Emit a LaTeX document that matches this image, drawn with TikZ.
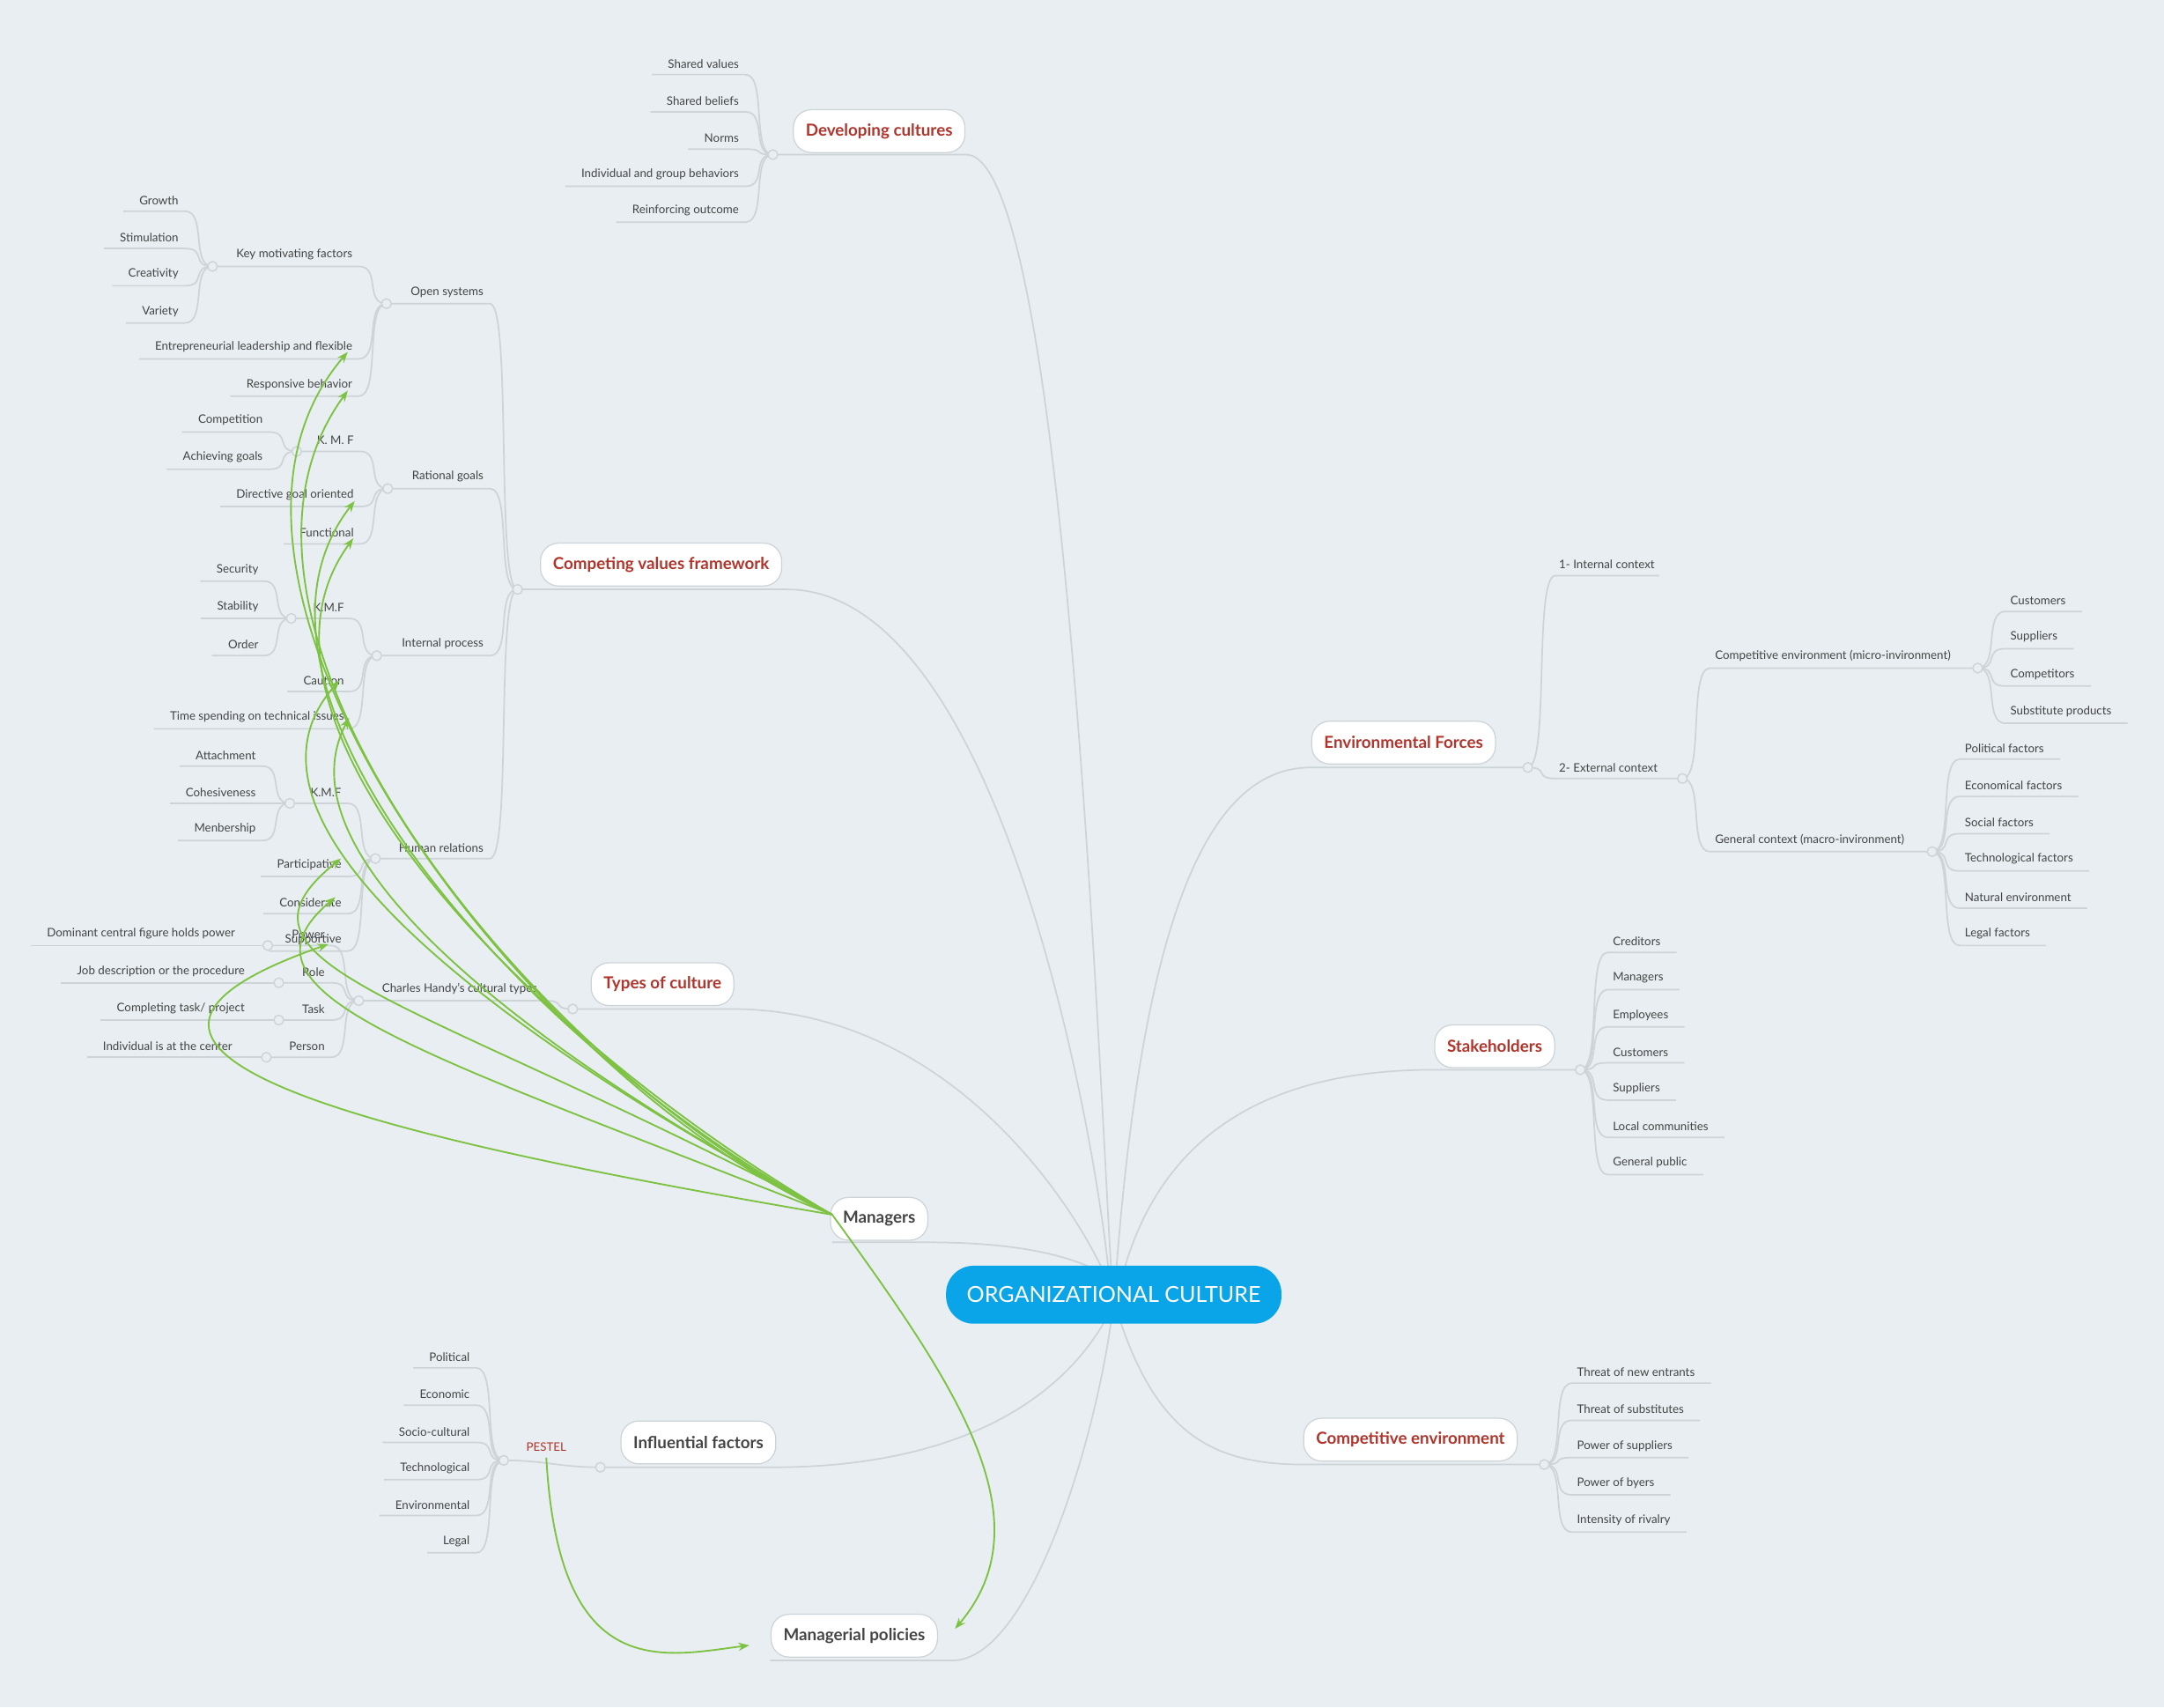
\documentclass[tikz,border=0pt]{standalone}
\usepackage{fontspec}
\setmainfont{Lato}
\usetikzlibrary{calc,arrows.meta}
\definecolor{bg}{HTML}{E8EEF1}
\definecolor{ln}{HTML}{CDD4D8}
\definecolor{tx}{HTML}{444444}
\definecolor{red}{HTML}{B0342B}
\definecolor{blu}{HTML}{0AA5E8}
\definecolor{grn}{HTML}{7DC242}
\newcounter{lf}
\tikzset{
 br/.style={draw=ln,line width=1.1pt},
 leaf/.style={font=\fontsize{8.5}{10}\selectfont,text=tx,inner xsep=1.5pt,inner ysep=4.5pt},
 topic/.style={fill=white,draw=ln,line width=0.8pt,rounded corners=13pt,minimum height=31pt,inner xsep=9pt,font=\bfseries\fontsize{12}{14}\selectfont,text=red},
 topicd/.style={topic,text=tx},
 jn/.style={circle,draw=ln,fill=bg,line width=0.9pt,inner sep=0pt,minimum size=7pt},
 ga/.style={draw=grn,line width=1.2pt,-{Stealth[length=8pt,width=6pt]}},
}
\newcommand\cL[2]{(#1) .. controls ([xshift=-16pt]#1) and ([xshift=-4pt]#2) .. ([xshift=-20pt]#2)}
\newcommand\cR[2]{(#1) .. controls ([xshift=16pt]#1) and ([xshift=4pt]#2) .. ([xshift=20pt]#2)}
% left leaf: J, xright, y, text
\newcommand\lfL[4]{\stepcounter{lf}\node[leaf,anchor=south east] (n\arabic{lf}) at (#2,#3) {#4};
 \coordinate (t\arabic{lf}) at (#1 |- n\arabic{lf}.south);
 \draw[br] \cL{#1}{t\arabic{lf}} -- ([xshift=-10pt]n\arabic{lf}.south west);}
% left mid: J, xright, y, text, ownJ, ownjx
\newcommand\mdL[6]{\stepcounter{lf}\node[leaf,anchor=south east] (n\arabic{lf}) at (#2,#3) {#4};
 \coordinate (#5) at (#6,#3); \coordinate (t\arabic{lf}) at (#1 |- #5);
 \draw[br] \cL{#1}{t\arabic{lf}} -- (#5);}
\newcommand\lfR[4]{\stepcounter{lf}\node[leaf,anchor=south west] (n\arabic{lf}) at (#2,#3) {#4};
 \coordinate (t\arabic{lf}) at (#1 |- n\arabic{lf}.south);
 \draw[br] \cR{#1}{t\arabic{lf}} -- ([xshift=10pt]n\arabic{lf}.south east);}
\newcommand\mdR[6]{\stepcounter{lf}\node[leaf,anchor=south west] (n\arabic{lf}) at (#2,#3) {#4};
 \coordinate (#5) at (#6,#3); \coordinate (t\arabic{lf}) at (#1 |- #5);
 \draw[br] \cR{#1}{t\arabic{lf}} -- (#5);}
\begin{document}
\begin{tikzpicture}[x=1pt,y=-1pt]
\fill[bg] (0,0) rectangle (1568,1237);
\useasboundingbox (0,0) rectangle (1568,1237);
% junctions
\coordinate (Jdev) at (560,112);
\coordinate (Jcvf) at (375,427);
\coordinate (Jtyp) at (415,731);
\coordinate (Jenv) at (1107,556);
\coordinate (Jsta) at (1145,775);
\coordinate (Jcmp) at (1119,1061);
\coordinate (Jinf) at (435,1063);
% main branches
\draw[br] (Jdev) -- (700,112) .. controls (770,112) and (795,750) .. (805,918);
\draw[br] (Jcvf) -- (570,427) .. controls (720,427) and (790,800) .. (803,918);
\draw[br] (Jtyp) -- (530,731) .. controls (680,731) and (770,860) .. (798,918);
\draw[br] (603,900) -- (670,900) .. controls (720,900) and (760,905) .. (790,918);
\draw[br] (Jinf) -- (560,1063) .. controls (700,1063) and (770,1010) .. (800,958);
\draw[br] (558,1203) -- (690,1203) .. controls (745,1203) and (792,1050) .. (805,958);
\draw[br] (809,918) .. controls (830,650) and (880,556) .. (950,556) -- (Jenv);
\draw[br] (815,918) .. controls (850,800) and (950,775) .. (1040,775) -- (Jsta);
\draw[br] (812,958) .. controls (840,1040) and (880,1061) .. (945,1061) -- (Jcmp);
% developing cultures
\lfL{Jdev}{537}{54}{Shared values}
\lfL{Jdev}{537}{81}{Shared beliefs}
\lfL{Jdev}{537}{108}{Norms}
\lfL{Jdev}{537}{135}{Individual and group behaviors}
\lfL{Jdev}{537}{161}{Reinforcing outcome}
% competing values
\mdL{Jcvf}{352}{220}{Open systems}{Jop}{280}
\mdL{Jcvf}{352}{354}{Rational goals}{Jra}{281}
\mdL{Jcvf}{352}{475}{Internal process}{Jin}{273}
\mdL{Jcvf}{352}{622}{Human relations}{Jhu}{272}
\mdL{Jop}{257}{193}{Key motivating factors}{Jkm1}{154}
\lfL{Jop}{257}{260}{Entrepreneurial leadership and flexible}
\lfL{Jop}{257}{287}{Responsive behavior}
\lfL{Jkm1}{131}{153}{Growth}
\lfL{Jkm1}{131}{180}{Stimulation}
\lfL{Jkm1}{131}{207}{Creativity}
\lfL{Jkm1}{131}{234}{Variety}
\mdL{Jra}{258}{327}{K. M. F}{Jkm2}{215}
\lfL{Jra}{258}{367}{Directive goal oriented}
\lfL{Jra}{258}{394}{Functional}
\lfL{Jkm2}{192}{313}{Competition}
\lfL{Jkm2}{192}{340}{Achieving goals}
\mdL{Jin}{251}{448}{K.M.F}{Jkm3}{211}
\lfL{Jin}{251}{501}{Caution}
\lfL{Jin}{251}{528}{Time spending on technical issues}
\lfL{Jkm3}{189}{421}{Security}
\lfL{Jkm3}{189}{448}{Stability}
\lfL{Jkm3}{189}{475}{Order}
\mdL{Jhu}{249}{582}{K.M.F}{Jkm4}{210}
\lfL{Jhu}{249}{635}{Participative}
\lfL{Jhu}{249}{662}{Considerate}
\lfL{Jhu}{249}{689}{Supportive}
\lfL{Jkm4}{187}{555}{Attachment}
\lfL{Jkm4}{187}{582}{Cohesiveness}
\lfL{Jkm4}{187}{609}{Menbership}
% types of culture
\mdL{Jtyp}{391}{725}{Charles Handy's cultural types}{Jch}{260}
\mdL{Jch}{237}{685}{Power}{Jpo}{194}
\mdL{Jch}{237}{712}{Role}{Jro}{202}
\mdL{Jch}{237}{739}{Task}{Jta}{202}
\mdL{Jch}{237}{766}{Person}{Jpe}{193}
\lfL{Jpo}{172}{685}{Dominant central figure holds power}
\lfL{Jro}{179}{712}{Job description or the procedure}
\lfL{Jta}{179}{739}{Completing task/ project}
\lfL{Jpe}{170}{766}{Individual is at the center}
% influential
\node[leaf,text=red,anchor=south east] (pestel) at (412,1056) {PESTEL};
\coordinate (Jpe2) at (365,1058);
\draw[br] (Jinf) .. controls ([xshift=-30pt]Jinf) and ([xshift=30pt]Jpe2) .. (Jpe2);
\lfL{Jpe2}{342}{991}{Political}
\lfL{Jpe2}{342}{1018}{Economic}
\lfL{Jpe2}{342}{1045}{Socio-cultural}
\lfL{Jpe2}{342}{1072}{Technological}
\lfL{Jpe2}{342}{1098}{Environmental}
\lfL{Jpe2}{342}{1125}{Legal}
% environmental forces
\mdR{Jenv}{1128}{417}{1- Internal context}{Jic}{1202}
\mdR{Jenv}{1128}{564}{2- External context}{Jec}{1219}
\mdR{Jec}{1241}{484}{Competitive environment (micro-invironment)}{Jce}{1433}
\mdR{Jec}{1241}{617}{General context (macro-invironment)}{Jgc}{1400}
\lfR{Jce}{1455}{443}{Customers}
\lfR{Jce}{1455}{470}{Suppliers}
\lfR{Jce}{1455}{497}{Competitors}
\lfR{Jce}{1455}{524}{Substitute products}
\lfR{Jgc}{1422}{550}{Political factors}
\lfR{Jgc}{1422}{577}{Economical factors}
\lfR{Jgc}{1422}{604}{Social factors}
\lfR{Jgc}{1422}{631}{Technological factors}
\lfR{Jgc}{1422}{658}{Natural environment}
\lfR{Jgc}{1422}{685}{Legal factors}
% stakeholders
\lfR{Jsta}{1167}{690}{Creditors}
\lfR{Jsta}{1167}{717}{Managers}
\lfR{Jsta}{1167}{744}{Employees}
\lfR{Jsta}{1167}{770}{Customers}
\lfR{Jsta}{1167}{797}{Suppliers}
\lfR{Jsta}{1167}{824}{Local communities}
\lfR{Jsta}{1167}{851}{General public}
% competitive environment
\lfR{Jcmp}{1141}{1002}{Threat of new entrants}
\lfR{Jcmp}{1141}{1029}{Threat of substitutes}
\lfR{Jcmp}{1141}{1056}{Power of suppliers}
\lfR{Jcmp}{1141}{1083}{Power of byers}
\lfR{Jcmp}{1141}{1110}{Intensity of rivalry}
% junction circles
\foreach \j in {Jdev,Jcvf,Jtyp,Jenv,Jsta,Jcmp,Jinf,Jop,Jra,Jin,Jhu,Jkm1,Jkm2,Jkm3,Jkm4,Jch,Jpo,Jro,Jta,Jpe,Jpe2,Jec,Jce,Jgc}
 \node[jn] at (\j) {};
% nodes
\node[fill=blu,rounded corners=20pt,minimum width=243pt,minimum height=42pt,text=white,font=\fontsize{16}{18}\selectfont] (root) at (807,938) {ORGANIZATIONAL CULTURE};
\node[topic] (dev) at (637,95) {Developing cultures};
\node[topic] (cvf) at (479,409) {Competing values framework};
\node[topic] (typ) at (480,713) {Types of culture};
\node[topic] (env) at (1017,538) {Environmental Forces};
\node[topic] (sta) at (1083,758) {Stakeholders};
\node[topic] (cmp) at (1022,1043) {Competitive environment};
\node[topicd] (man) at (637,883) {Managers};
\node[topicd] (inf) at (506,1045) {Influential factors};
\node[topicd] (mp) at (619,1185) {Managerial policies};
% green relations
\coordinate (ms) at (603,880);
\draw[ga] (ms) .. controls (380,780) and (110,420) .. (252,255);
\draw[ga] (ms) .. controls (380,770) and (130,450) .. (252,283);
\draw[ga] (ms) .. controls (380,760) and (150,500) .. (257,363);
\draw[ga] (ms) .. controls (380,750) and (160,520) .. (256,390);
\draw[ga] (ms) .. controls (380,760) and (150,600) .. (246,493);
\draw[ga] (ms) .. controls (380,760) and (200,620) .. (253,520);
\draw[ga] (ms) .. controls (300,720) and (150,700) .. (247,622);
\draw[ga] (ms) .. controls (300,760) and (160,720) .. (243,650);
\draw[ga] (ms) .. controls (250,820) and (20,760) .. (238,684);
\draw[ga] (ms) .. controls (690,1000) and (760,1100) .. (692,1180);
\draw[ga] (pestel.south) .. controls (405,1220) and (480,1200) .. (543,1192);
\end{tikzpicture}
\end{document}
